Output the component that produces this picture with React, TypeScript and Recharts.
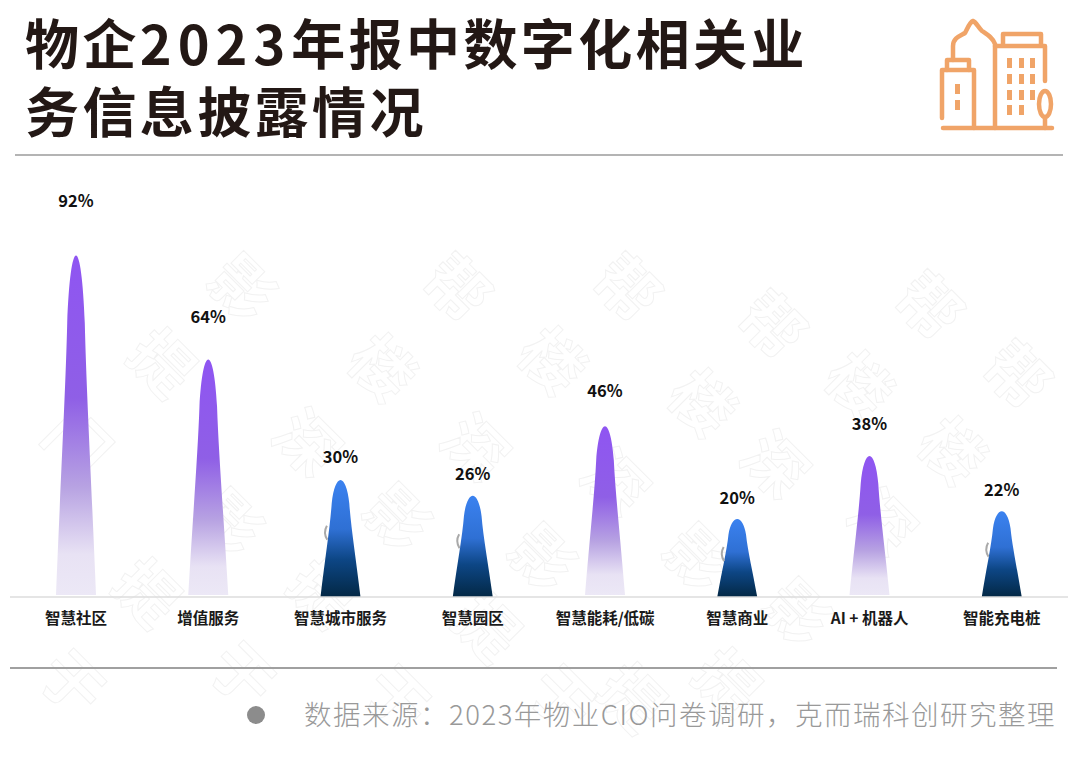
import React from 'react';
import { Bar, BarChart, LabelList, XAxis, YAxis } from 'recharts';

const categories = ['智慧社区', '增值服务', '智慧城市服务', '智慧园区', '智慧能耗/低碳', '智慧商业', 'AI + 机器人', '智能充电桩'];
const shares = [92, 64, 30, 26, 46, 20, 38, 22];
const tones = ['purple', 'purple', 'blue', 'blue', 'purple', 'blue', 'purple', 'blue'];

const data = categories.map((name, i) => ({ name, share: shares[i], tone: tones[i] }));

const cjk = '"Noto Sans CJK SC", sans-serif';

// faint diagonal watermark behind the chart
const watermark: [string, number, number][] = [
  ['影', 245, 285], ['帮', 460, 285], ['帮', 630, 285], ['帮', 775, 322], ['帮', 932, 303], ['帮', 1020, 372],
  ['楼', 385, 365], ['楼', 555, 358], ['楼', 705, 400], ['楼', 862, 382], ['楼', 955, 448],
  ['提', 165, 360], ['门', 80, 440], ['深', 310, 440], ['深', 478, 445], ['深', 618, 480], ['深', 778, 462], ['深', 885, 520],
  ['影', 232, 520], ['影', 400, 515], ['影', 545, 555], ['影', 700, 555], ['影', 800, 610],
  ['提', 150, 590], ['提', 325, 590], ['提', 490, 625], ['提', 730, 680],
  ['于', 75, 680], ['于', 245, 672], ['于', 400, 695], ['于', 565, 695], ['提', 635, 695],
];

const FlameBar = (props: any) => {
  const { x, y, width, height, background, tone, index } = props;
  const floor = background.y + background.height;
  const cx = x + width / 2;
  const hw = width / 2;
  // the drawn spike is shorter than the value's bar, so the label floats above it
  const top = floor - height * (tone === 'purple' ? 0.9 : 0.945);
  const bottom = tone === 'purple' ? floor - 2 : floor;
  const h = bottom - top;
  const d = [
    `M${cx},${top}`,
    `C${cx + hw * 0.18},${top} ${cx + hw * 0.36},${top + h * 0.07} ${cx + hw * 0.44},${top + h * 0.2}`,
    `C${cx + hw * 0.52},${top + h * 0.4} ${cx + hw * 0.78},${top + h * 0.68} ${cx + hw},${bottom}`,
    `L${cx - hw},${bottom}`,
    `C${cx - hw * 0.78},${top + h * 0.68} ${cx - hw * 0.52},${top + h * 0.4} ${cx - hw * 0.44},${top + h * 0.2}`,
    `C${cx - hw * 0.36},${top + h * 0.07} ${cx - hw * 0.18},${top} ${cx},${top}`,
    'Z',
  ].join(' ');
  const tickY = top + h * 0.45;
  return (
    <g key={index}>
      <path d={d} fill={`url(#${tone})`} />
      {tone === 'blue' && (
        <path d={`M${cx - hw * 0.68},${tickY - 7} Q${cx - hw * 0.88},${tickY} ${cx - hw * 0.66},${tickY + 7}`} fill="none" stroke="#a9a9a9" strokeWidth={2} />
      )}
    </g>
  );
};

const Icon = () => (
  <svg width={1080} height={158} style={{ position: 'absolute', left: 0, top: 0 }}>
    <g fill="none" stroke="#f0a468" strokeWidth={4.5} strokeLinecap="round" strokeLinejoin="round">
      <path d="M943,128 H1052" />
      <path d="M942,118 V70 H974 V128" />
      <path d="M947,70 V60 H969 V70" />
      <path d="M953,60 V46 C953,38 960,36 965,33 C968,27 970,22 973,21 C976,22 978,27 982,31 C988,35 993,38 995,44 V128" />
      <path d="M995,46 H1045 V81" />
      <path d="M1003,45 V34 H1041 V45" />
      <ellipse cx={1045} cy={104} rx={6} ry={13} />
      <path d="M1045,117 V128" />
    </g>
    <g fill="#f0a468">
      {[84, 100].map((wy) => <rect key={wy} x={955} y={wy} width={5} height={10} />)}
      {[58, 74, 90, 105].map((wy, r) =>
        [1007, 1019, 1030].slice(0, r === 3 ? 2 : 3).map((wx) => <rect key={`${wx}-${wy}`} x={wx} y={wy} width={5} height={10} />)
      )}
    </g>
  </svg>
);

const titleStyle: React.CSSProperties = { position: 'absolute', left: 25, fontSize: 54, lineHeight: '68px', fontWeight: 700, letterSpacing: 3.4, color: '#231815', whiteSpace: 'nowrap' };

export default function App() {
  return (
    <div style={{ position: 'absolute', left: 0, top: 0, width: 1080, height: 758, background: '#fff', overflow: 'hidden', fontFamily: cjk }}>
      <svg width={1080} height={758} style={{ position: 'absolute', left: 0, top: 0 }}>
        {watermark.map(([ch, wx, wy], i) => (
          <text key={i} x={wx} y={wy} transform={`rotate(45 ${wx} ${wy})`} textAnchor="middle" dominantBaseline="central" fontSize={62} fontWeight={700} fontFamily={cjk} fill="none" stroke="#f2f2f2" strokeWidth={1}>
            {ch}
          </text>
        ))}
      </svg>

      <div style={{ ...titleStyle, top: 8 }}>
        物企<span style={{ letterSpacing: 6 }}>2023</span>年报中数字化相关业
      </div>
      <div style={{ ...titleStyle, top: 76 }}>务信息披露情况</div>
      <Icon />
      <div style={{ position: 'absolute', left: 15, top: 154, width: 1048, height: 2, background: '#b4b4b4' }} />

      <div style={{ position: 'absolute', left: 0, top: 0 }}>
        <BarChart width={1080} height={640} data={data} margin={{ top: 168, right: 12, bottom: 13, left: 10 }} barSize={40}>
          <defs>
            <linearGradient id="purple" x1="0" y1="0" x2="0" y2="1">
              <stop offset="0" stopColor="#8f55f2" />
              <stop offset="0.42" stopColor="#8f5fe6" />
              <stop offset="0.68" stopColor="#b7a2e2" />
              <stop offset="0.88" stopColor="#e8e2f4" />
              <stop offset="1" stopColor="#ece8f6" />
            </linearGradient>
            <linearGradient id="blue" x1="0" y1="0" x2="0" y2="1">
              <stop offset="0" stopColor="#3b82f0" />
              <stop offset="0.42" stopColor="#2f70d4" />
              <stop offset="0.68" stopColor="#0d4685" />
              <stop offset="1" stopColor="#032845" />
            </linearGradient>
          </defs>
          <XAxis
            dataKey="name"
            height={30}
            interval={0}
            axisLine={{ stroke: '#dcdcdc', strokeWidth: 1.5 }}
            tickLine={false}
            tickMargin={10}
            tick={{ fontSize: 15.5, fontWeight: 700, fill: '#1a1a1a', fontFamily: cjk }}
          />
          <YAxis hide domain={[-2, 102]} />
          <Bar dataKey="share" isAnimationActive={false} shape={FlameBar}>
            <LabelList dataKey="share" position="top" offset={2} formatter={(v: any) => `${v}%`} style={{ fontSize: 16.5, fontWeight: 700, fill: '#111', fontFamily: cjk }} />
          </Bar>
        </BarChart>
      </div>

      <div style={{ position: 'absolute', left: 10, top: 667, width: 1047, height: 1.5, background: '#a0a0a0' }} />
      <div style={{ position: 'absolute', left: 247, top: 706, width: 18, height: 18, borderRadius: '50%', background: '#8c8c8c' }} />
      <div style={{ position: 'absolute', left: 304, top: 692, fontSize: 27.5, lineHeight: '42px', fontWeight: 300, letterSpacing: 1.5, color: '#999', whiteSpace: 'nowrap' }}>
        数据来源：2023年物业CIO问卷调研，克而瑞科创研究整理
      </div>
    </div>
  );
}
